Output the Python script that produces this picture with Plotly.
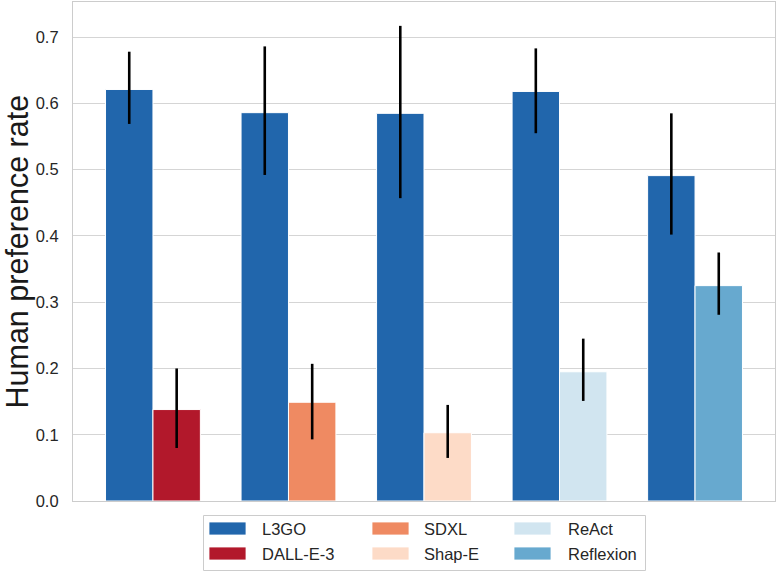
import plotly.graph_objects as go

groups = [0, 1, 2, 3, 4]
l3go = [0.621, 0.586, 0.585, 0.618, 0.491]
l3go_hi = [0.678, 0.686, 0.717, 0.683, 0.585]
l3go_lo = [0.569, 0.492, 0.457, 0.555, 0.402]

baselines = ["DALL-E-3", "SDXL", "Shap-E", "ReAct", "Reflexion"]
base_vals = [0.138, 0.149, 0.103, 0.195, 0.325]
base_hi = [0.200, 0.207, 0.145, 0.245, 0.375]
base_lo = [0.080, 0.093, 0.065, 0.151, 0.281]
base_colors = ["#b2182b", "#ef8a62", "#fddbc7", "#d1e5f0", "#67a9cf"]
l3go_color = "#2166ac"
y_title = "Human preference rate"

bar_w = 0.35
font_family = "Liberation Sans, Arial, sans-serif"

W, H = 777, 574
ML, MR, MT, MB = 73, 2, 2, 73
PW, PH = W - ML - MR, H - MT - MB


def px_x(p):
    return (p - ML) / PW


def px_y(p):
    return (H - MB - p) / PH


fig = go.Figure()

fig.add_trace(go.Bar(
    x=[g - bar_w / 2 for g in groups], y=l3go, width=bar_w, name="L3GO",
    marker=dict(color=l3go_color, line=dict(color="white", width=1)),
    error_y=dict(type="data", symmetric=False,
                 array=[h - v for h, v in zip(l3go_hi, l3go)],
                 arrayminus=[v - l for v, l in zip(l3go, l3go_lo)],
                 color="black", thickness=2.6, width=0),
))

for i, name in enumerate(baselines):
    fig.add_trace(go.Bar(
        x=[groups[i] + bar_w / 2], y=[base_vals[i]], width=bar_w, name=name,
        marker=dict(color=base_colors[i], line=dict(color="white", width=1)),
        error_y=dict(type="data", symmetric=False,
                     array=[base_hi[i] - base_vals[i]],
                     arrayminus=[base_vals[i] - base_lo[i]],
                     color="black", thickness=2.6, width=0),
    ))

# legend drawn as a boxed 3-column key below the axes (column-major order)
legend_names = ["L3GO"] + baselines
legend_colors = [l3go_color] + base_colors
col_patch_x = [209, 372, 514]
col_text_x = [260, 422, 566]
row_y = [528.5, 553.5]

shapes = [dict(type="rect", xref="paper", yref="paper",
               x0=px_x(203.5), x1=px_x(645.5), y0=px_y(570.5), y1=px_y(515.5),
               line=dict(color="#cccccc", width=1), fillcolor="white", layer="below")]
annotations = []
for k, (nm, col) in enumerate(zip(legend_names, legend_colors)):
    c, r = k // 2, k % 2
    shapes.append(dict(type="rect", xref="paper", yref="paper",
                       x0=px_x(col_patch_x[c]), x1=px_x(col_patch_x[c] + 37),
                       y0=px_y(row_y[r] + 6.5), y1=px_y(row_y[r] - 6.5),
                       line=dict(color="white", width=0.8), fillcolor=col))
    annotations.append(dict(xref="paper", yref="paper", x=px_x(col_text_x[c]),
                            y=px_y(row_y[r]), text=nm, showarrow=False,
                            xanchor="left", yanchor="middle",
                            font=dict(size=16.5, color="#262626", family=font_family)))

# y-axis title
annotations.append(dict(xref="paper", yref="paper", x=px_x(17), y=0.5,
                        text=y_title, textangle=-90, showarrow=False,
                        xanchor="center", yanchor="middle",
                        font=dict(size=30.5, color="#1a1a1a", family=font_family)))

fig.update_layout(
    width=W, height=H,
    margin=dict(l=ML, r=MR, t=MT, b=MB, autoexpand=False),
    paper_bgcolor="white", plot_bgcolor="white",
    barmode="overlay",
    font=dict(family=font_family, color="#262626"),
    showlegend=False,
    shapes=shapes,
    annotations=annotations,
    xaxis=dict(range=[-0.59, 4.59], showticklabels=False, showgrid=False,
               zeroline=False, showline=True, mirror=True,
               linecolor="#cccccc", linewidth=1.2, ticks=""),
    yaxis=dict(range=[0, 0.753], tickvals=[0, 0.1, 0.2, 0.3, 0.4, 0.5, 0.6, 0.7],
               tickformat=".1f", tickfont=dict(size=16.5, color="#262626"),
               showgrid=True, gridcolor="#d5d5d5", gridwidth=1,
               zeroline=False, showline=True, mirror=True,
               linecolor="#cccccc", linewidth=1.2, ticks="", ticklabelstandoff=10),
)

fig.write_html("out.html", config={"displayModeBar": False},
               post_script="document.body.style.margin='0px';")
